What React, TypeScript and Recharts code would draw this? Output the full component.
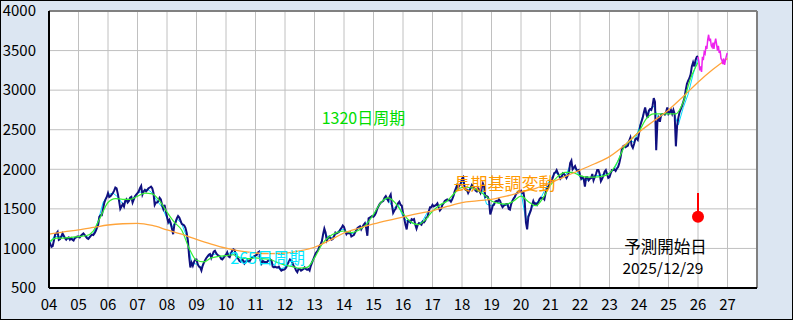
import {
  CartesianGrid,
  Line,
  LineChart,
  ReferenceDot,
  ReferenceLine,
  XAxis,
  YAxis,
} from 'recharts'

const START_YEAR = 2004

// index price, two readings per month (2004/01 .. 2025/12), last one at 2026.0
const PRICE: number[] = [
  // 2004
  1045, 1060, 1020, 1030, 1100, 1175, 1190, 1210, 1110, 1120, 1150, 1190,
  1160, 1130, 1110, 1130, 1140, 1110, 1130, 1110, 1100, 1130, 1140, 1150,
  // 2005
  1150, 1140, 1160, 1175, 1190, 1170, 1150, 1130, 1120, 1140, 1160, 1175,
  1170, 1190, 1220, 1260, 1300, 1400, 1420, 1420, 1500, 1580, 1620, 1650,
  // 2006
  1700, 1650, 1660, 1680, 1700, 1730, 1770, 1760, 1690, 1600, 1500, 1530,
  1560, 1530, 1600, 1620, 1580, 1600, 1640, 1650, 1580, 1620, 1660, 1680,
  // 2007
  1700, 1720, 1760, 1790, 1680, 1720, 1740, 1720, 1740, 1760, 1770, 1780,
  1760, 1700, 1550, 1580, 1580, 1600, 1640, 1620, 1550, 1500, 1550, 1475,
  // 2008
  1400, 1330, 1360, 1320, 1250, 1180, 1300, 1330, 1380, 1410, 1390, 1350,
  1310, 1300, 1290, 1260, 1200, 1100, 900, 760, 820, 780, 830, 860,
  // 2009
  860, 800, 770, 760, 720, 780, 820, 850, 880, 900, 920, 930,
  880, 920, 960, 970, 940, 920, 910, 900, 870, 860, 880, 905,
  // 2010
  920, 950, 900, 890, 930, 970, 990, 980, 920, 880, 870, 840,
  830, 860, 850, 810, 830, 850, 840, 830, 860, 880, 890, 900,
  // 2011
  910, 920, 950, 960, 850, 810, 840, 830, 830, 820, 840, 850,
  860, 850, 770, 760, 770, 760, 760, 770, 740, 720, 730, 730,
  // 2012
  740, 760, 800, 830, 860, 850, 820, 780, 760, 720, 700, 740,
  740, 720, 730, 740, 760, 740, 730, 740, 720, 780, 820, 860,
  // 2013
  900, 940, 960, 980, 1030, 1050, 1090, 1180, 1250, 1200, 1100, 1130,
  1150, 1130, 1110, 1120, 1160, 1200, 1190, 1200, 1210, 1240, 1260, 1290,
  // 2014
  1270, 1220, 1180, 1200, 1190, 1200, 1150, 1160, 1170, 1200, 1230, 1260,
  1270, 1280, 1240, 1270, 1300, 1320, 1260, 1160, 1380, 1390, 1400, 1410,
  // 2015
  1400, 1420, 1450, 1500, 1530, 1560, 1580, 1590, 1600, 1640, 1660, 1630,
  1600, 1650, 1680, 1550, 1450, 1480, 1500, 1540, 1570, 1590, 1550, 1540,
  // 2016
  1450, 1380, 1300, 1240, 1350, 1350, 1330, 1370, 1360, 1370, 1300, 1250,
  1300, 1320, 1310, 1300, 1340, 1330, 1350, 1390, 1400, 1470, 1520, 1520,
  // 2017
  1550, 1530, 1540, 1550, 1570, 1520, 1480, 1500, 1550, 1570, 1600, 1610,
  1620, 1610, 1610, 1590, 1620, 1660, 1720, 1760, 1800, 1770, 1800, 1817,
  // 2018
  1880, 1900, 1780, 1740, 1740, 1700, 1730, 1760, 1800, 1780, 1760, 1730,
  1720, 1760, 1730, 1700, 1760, 1820, 1780, 1650, 1660, 1650, 1600, 1430,
  // 2019
  1480, 1540, 1550, 1590, 1600, 1590, 1620, 1600, 1550, 1520, 1540, 1550,
  1560, 1560, 1500, 1490, 1560, 1600, 1630, 1650, 1690, 1700, 1720, 1720,
  // 2020
  1730, 1700, 1710, 1600, 1330, 1240, 1400, 1440, 1480, 1550, 1600, 1560,
  1570, 1550, 1580, 1620, 1640, 1630, 1640, 1620, 1700, 1750, 1780, 1800,
  // 2021
  1850, 1860, 1900, 1950, 1960, 1990, 1950, 1920, 1880, 1900, 1950, 1940,
  1920, 1890, 1920, 1960, 2080, 2110, 2000, 2020, 2040, 2000, 1980, 1990,
  // 2022
  1930, 1880, 1900, 1880, 1780, 1900, 1900, 1860, 1880, 1890, 1940, 1860,
  1900, 1940, 1990, 1990, 1940, 1850, 1880, 1920, 1970, 1990, 1940, 1890,
  // 2023
  1900, 1950, 1990, 1990, 2000, 1980, 2010, 2030, 2080, 2150, 2250, 2290,
  2300, 2280, 2290, 2300, 2360, 2400, 2300, 2270, 2320, 2380, 2390, 2370,
  // 2024
  2450, 2550, 2600, 2650, 2720, 2780, 2700, 2650, 2740, 2760, 2750, 2800,
  2900, 2850, 2240, 2600, 2650, 2600, 2690, 2700, 2700, 2690, 2720, 2780,
  // 2025
  2700, 2720, 2750, 2700, 2750, 2700, 2290, 2550, 2650, 2720, 2760, 2800,
  2850, 2900, 3000, 3080, 3120, 3150, 3200, 3300, 3350, 3300, 3380, 3420,
  // 2026.0
  3430,
]

// 265-day cycle, every two months
const CYCLE_265: number[] = [
  1040, 1150, 1150, 1150, 1120, 1130,
  1150, 1170, 1140, 1180, 1350, 1580,
  1680, 1700, 1650, 1560, 1600, 1630,
  1700, 1720, 1750, 1700, 1600, 1520,
  1380, 1260, 1380, 1310, 1150, 820,
  800, 760, 880, 920, 930, 880,
  920, 950, 900, 840, 840, 880,
  920, 880, 830, 850, 770, 740,
  760, 850, 760, 730, 740, 780,
  900, 1020, 1200, 1130, 1150, 1230,
  1240, 1190, 1190, 1250, 1280, 1350,
  1420, 1540, 1620, 1620, 1500, 1550,
  1400, 1330, 1320, 1300, 1350, 1460,
  1540, 1540, 1560, 1600, 1620, 1770,
  1850, 1730, 1770, 1740, 1760, 1560,
  1540, 1600, 1560, 1540, 1580, 1690,
  1720, 1350, 1500, 1570, 1630, 1760,
  1880, 1960, 1910, 1910, 2050, 2010,
  1900, 1850, 1880, 1920, 1920, 1940,
  1950, 2000, 2150, 2290, 2370, 2340,
  2520, 2720, 2720, 2800, 2620, 2700,
  2710, 2720, 2560, 2780, 2950, 3200,
  3400,
]

// 1320-day cycle, quarterly
const CYCLE_1320: number[] = [
  1080, 1130, 1130, 1140,
  1150, 1160, 1220, 1400,
  1580, 1630, 1620, 1620,
  1660, 1700, 1690, 1600,
  1460, 1330, 1230, 1000,
  850, 830, 880, 900,
  910, 920, 880, 870,
  880, 870, 860, 820,
  790, 770, 750, 760,
  880, 1050, 1150, 1200,
  1220, 1200, 1230, 1300,
  1430, 1580, 1640, 1570,
  1440, 1340, 1300, 1360,
  1470, 1550, 1600, 1700,
  1770, 1770, 1740, 1680,
  1600, 1570, 1560, 1600,
  1660, 1590, 1540, 1640,
  1800, 1910, 1960, 1960,
  1920, 1900, 1900, 1910,
  1950, 2080, 2280, 2380,
  2480, 2640, 2700, 2700,
  2700, 2700, 2850, 3150,
  3350,
]

// long-term trend, every half year 2004 .. 2027
const TREND: number[] = [
  1180, 1210, 1235, 1265, 1296, 1312, 1316, 1290, 1235, 1180,
  1115, 1055, 1003, 965, 942, 935, 942, 970, 1015, 1100,
  1195, 1255, 1309, 1355, 1397, 1440, 1476, 1530, 1580, 1600,
  1620, 1660, 1710, 1760, 1830, 1910, 1990, 2070, 2160, 2300,
  2470, 2610, 2750, 2920, 3100, 3260, 3400,
]

// forecast from 2025/12/29, step 0.03 year
const FORECAST: number[] = [
  3420, 3360, 3250, 3300, 3230, 3420, 3380, 3480, 3460, 3560,
  3520, 3640, 3700, 3620, 3650, 3560, 3540, 3600, 3520, 3600,
  3650, 3580, 3500, 3560, 3470, 3500, 3400, 3380, 3330, 3400,
  3320, 3380, 3430, 3470,
]

const X_TICKS = Array.from({ length: 24 }, (_, i) => START_YEAR + i)
const Y_TICKS = [500, 1000, 1500, 2000, 2500, 3000, 3500, 4000]

const priceData = PRICE.map((y, i) => ({ x: START_YEAR + i / 24, y }))
const cyanData = CYCLE_265.map((y, i) => ({ x: START_YEAR + i / 6, y }))
const greenData = CYCLE_1320.map((y, i) => ({ x: START_YEAR + i / 4, y }))
const trendData = TREND.map((y, i) => ({ x: START_YEAR + i / 2, y }))
const forecastData = FORECAST.map((y, i) => ({ x: 2026 + i * 0.03, y }))

const FONT = '"Noto Sans CJK JP", "Noto Sans", sans-serif'

function textLabel(value: string, fill: string, fontSize = 16) {
  return { value, position: 'center' as const, fill, fontSize, fontFamily: FONT }
}

export default function App() {
  return (
    <div
      style={{
        position: 'absolute',
        left: 0,
        top: 0,
        width: 793,
        height: 320,
        background: '#dce6f2',
      }}
    >
      <LineChart
        width={793}
        height={320}
        margin={{ top: 11, right: 36, bottom: 0, left: 0 }}
        style={{ fontFamily: FONT }}
      >
        <CartesianGrid stroke="#c0c0c0" fill="#ffffff" strokeWidth={1} />
        <XAxis
          dataKey="x"
          type="number"
          domain={[2004, 2028]}
          ticks={X_TICKS}
          height={32}
          allowDuplicatedCategory={false}
          tickFormatter={(v: number) => String(v % 100).padStart(2, '0')}
          axisLine={{ stroke: '#000', strokeWidth: 2 }}
          tickLine={false}
          tickSize={0}
          tickMargin={11}
          tick={{ fill: '#000', fontSize: 15, fontFamily: FONT }}
          interval={0}
        />
        <YAxis
          type="number"
          domain={[500, 4000]}
          ticks={Y_TICKS}
          width={49}
          axisLine={{ stroke: '#000', strokeWidth: 2 }}
          tickLine={false}
          tickSize={0}
          tickMargin={13}
          tick={{ fill: '#000', fontSize: 15, fontFamily: FONT }}
          interval={0}
        />
        <ReferenceLine y={4000} stroke="#808080" strokeWidth={2} />
        <ReferenceLine x={2028} stroke="#808080" strokeWidth={2} />

        <Line data={cyanData} dataKey="y" stroke="#00e0ff" strokeWidth={1} dot={false} isAnimationActive={false} />
        <Line data={priceData} dataKey="y" stroke="#10107f" strokeWidth={2} dot={false} isAnimationActive={false} />
        <Line data={greenData} dataKey="y" type="monotone" stroke="#33ee33" strokeWidth={1.2} dot={false} isAnimationActive={false} />
        <Line data={trendData} dataKey="y" type="monotone" stroke="#ffa43a" strokeWidth={1.3} dot={false} isAnimationActive={false} />
        <Line data={forecastData} dataKey="y" stroke="#ee22ee" strokeWidth={1.5} dot={false} isAnimationActive={false} />

        <ReferenceLine
          segment={[
            { x: 2026, y: 1400 },
            { x: 2026, y: 1700 },
          ]}
          stroke="#ff0000"
          strokeWidth={2}
        />
        <ReferenceDot x={2026} y={1400} r={6} fill="#ff0000" stroke="none" />

        <ReferenceDot x={2014.66} y={2648} r={0} fill="none" stroke="none" label={textLabel('1320日周期', '#00dd00')} />
        <ReferenceDot x={2019.44} y={1814} r={0} fill="none" stroke="none" label={textLabel('長期基調変動', '#ff9900', 17)} />
        <ReferenceDot x={2011.41} y={879} r={0} fill="none" stroke="none" label={textLabel('265日周期', '#00e8ff')} />
        <ReferenceDot x={2024.9} y={1020} r={0} fill="none" stroke="none" label={textLabel('予測開始日', '#000', 16.5)} />
        <ReferenceDot x={2024.81} y={752} r={0} fill="none" stroke="none" label={textLabel('2025/12/29', '#000', 15.5)} />
      </LineChart>
      <div
        style={{
          position: 'absolute',
          inset: 0,
          border: '1px solid #000',
          boxSizing: 'border-box',
          pointerEvents: 'none',
        }}
      />
    </div>
  )
}
